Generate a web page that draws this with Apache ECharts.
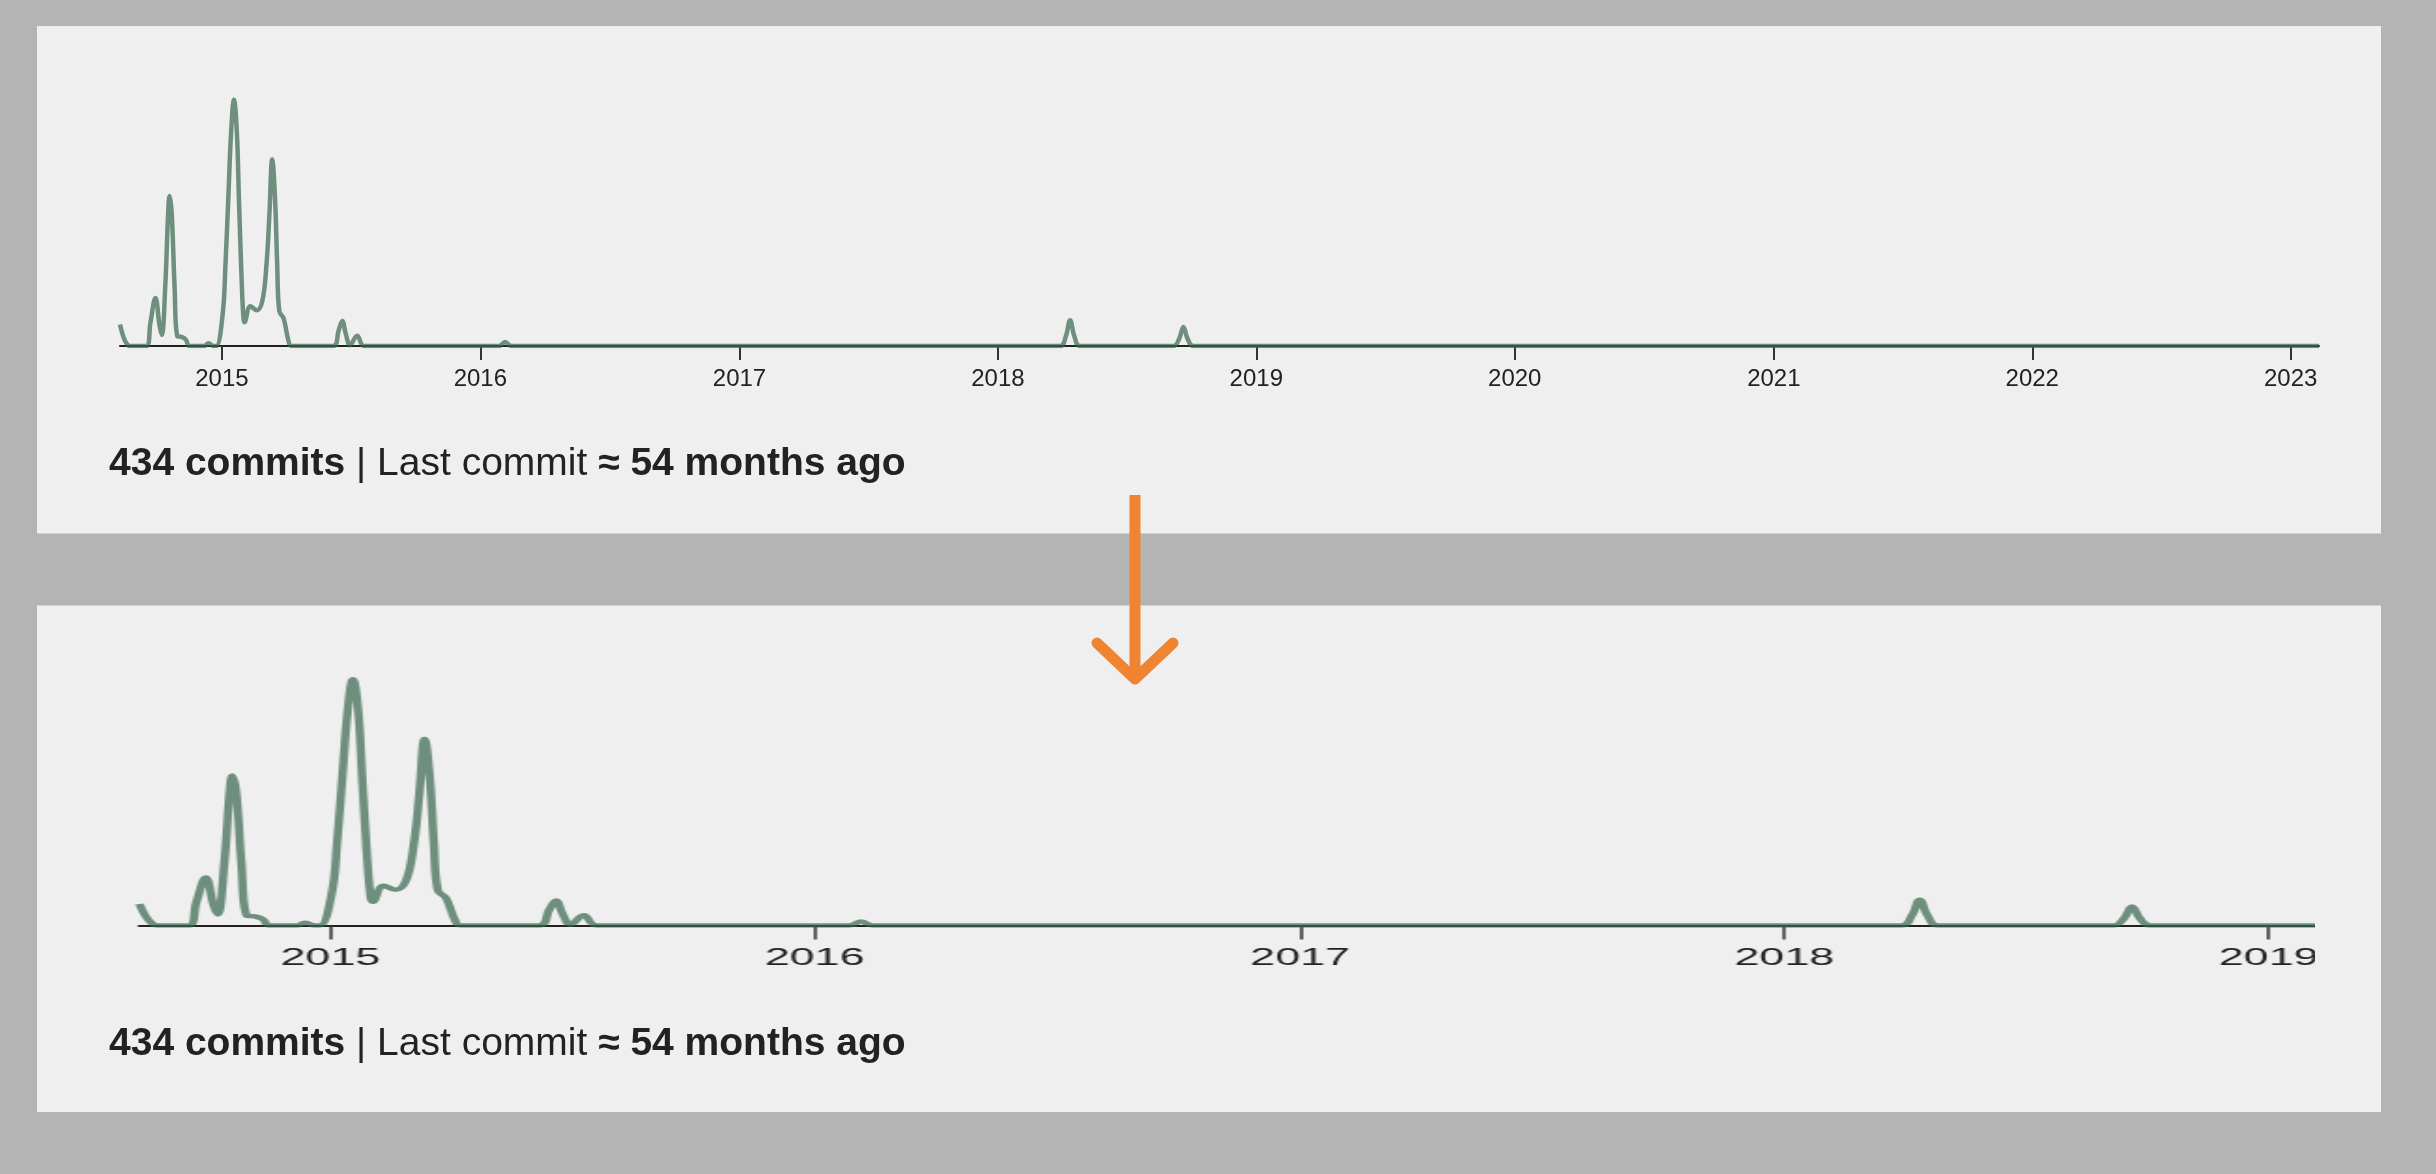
<!DOCTYPE html>
<html>
<head>
<meta charset="utf-8">
<script src="https://cdn.jsdelivr.net/npm/echarts@6/dist/echarts.min.js"></script>
<style>
  html, body { margin: 0; padding: 0; width: 2436px; height: 1174px; overflow: hidden; background: #b4b4b4; }
  .panel { position: absolute; left: 37px; width: 2344px; background: #efefef; }
  #panel1 { top: 26px; height: 507px; border-bottom: 1px solid #d2d2d2; }
  #panel2 { top: 605px; height: 506px; border-top: 1px solid #d2d2d2; }
  #main { position: absolute; left: 0; top: 0; width: 2436px; height: 1174px; }
  #wrap2 { position: absolute; left: 0; top: 606px; width: 2315px; height: 505px; overflow: hidden; }
  #chart2 { position: absolute; left: 0; top: 0; width: 1300px; height: 505px; transform: scaleX(1.87); transform-origin: 0 0; }
</style>
</head>
<body>
<div class="panel" id="panel1"></div>
<div class="panel" id="panel2"></div>
<div id="main"></div>
<div id="wrap2"><div id="chart2"></div></div>
<script>
// ---- data ----
const dates = [
  '2014-08-10','2014-08-15','2014-08-20','2014-08-24',
  '2014-09-16','2014-09-22','2014-09-29','2014-10-05','2014-10-08',
  '2014-10-13','2014-10-17','2014-10-19','2014-10-22','2014-10-26','2014-10-30',
  '2014-11-05','2014-11-11','2014-11-16',
  '2014-12-07','2014-12-13','2014-12-20','2014-12-24',
  '2015-01-02','2015-01-06','2015-01-10','2015-01-14','2015-01-18','2015-01-22','2015-01-25','2015-01-28','2015-01-31',
  '2015-02-02','2015-02-10','2015-02-19','2015-02-27',
  '2015-03-05','2015-03-09','2015-03-13','2015-03-17','2015-03-20','2015-03-23','2015-03-29',
  '2015-04-05','2015-04-09',
  '2015-06-07','2015-06-15','2015-06-20','2015-06-25','2015-07-01','2015-07-11','2015-07-21',
  '2016-01-27','2016-02-05','2016-02-14',
  '2018-03-30','2018-04-07','2018-04-13','2018-04-19','2018-04-27',
  '2018-09-06','2018-09-14','2018-09-20','2018-09-26','2018-10-04',
  '2023-02-10'
];
const commits = [
  5.4, 2.2, 0.4, 0,
  0, 5.9, 12.1, 5.0, 2.8,
  15.4, 33.5, 37.8, 33.5, 15.4, 2.5,
  2.3, 1.6, 0,
  0, 0.7, 0, 0,
  8, 20.7, 37.3, 54, 62, 54, 37, 20.7, 8,
  6, 10, 9, 11.3,
  20.7, 33, 47, 37, 20.7, 8.8, 7,
  1.3, 0,
  0, 4, 6.3, 3, 0.2, 2.6, 0,
  0, 1, 0,
  0, 2.5, 6.5, 2.5, 0,
  0, 1.8, 4.8, 1.8, 0,
  0
];
const yearsPanel1 = [2015, 2016, 2017, 2018, 2019, 2020, 2021, 2022, 2023];
const yearsPanel2 = [2015, 2016, 2017, 2018, 2019];
const rangePanel1 = ['2014-08-10', '2023-02-10'];
const rangePanel2 = ['2014-08-10', '2019-02-08'];
const summaryCount = '434 commits';
const summaryMid = ' | Last commit ';
const summaryAgo = '≈ 54 months ago';

// ---- build ----
function ts(s) { const p = s.split('-').map(Number); return new Date(p[0], p[1] - 1, p[2]).getTime(); }
const seriesData = dates.map((d, i) => [ts(d), commits[i]]);
const yearStarts = ys => ys.map(y => new Date(y, 0, 1).getTime());
const yearFmt = v => String(new Date(v).getFullYear());

function makeAxis(range, years, tickW) {
  const ticks = yearStarts(years);
  return {
    type: 'value',
    min: ts(range[0]),
    max: ts(range[1]),
    axisLine: { show: true, lineStyle: { color: '#222', width: 2 } },
    axisTick: { show: true, length: 14, customValues: ticks, lineStyle: { color: '#333', width: tickW } },
    axisLabel: {
      customValues: ticks, formatter: yearFmt, fontSize: 24,
      fontFamily: 'Liberation Sans, Arial, sans-serif', color: '#222', margin: 21
    },
    splitLine: { show: false }
  };
}
function makeSeries(width) {
  return {
    type: 'line', data: seriesData, showSymbol: false, smooth: 0.4, silent: true,
    lineStyle: { color: 'rgb(56,102,79)', width: width, opacity: 0.7 }, z: 3
  };
}
const summaryText = '{b|' + summaryCount + '}{n|' + summaryMid + '}{b|' + summaryAgo + '}';
const textFont = 'Liberation Sans, Arial, sans-serif';
const rich = {
  b: { fontFamily: textFont, fontSize: 39, fontWeight: 'bold', fill: '#222' },
  n: { fontFamily: textFont, fontSize: 39, fontWeight: 'normal', fill: '#222' }
};

const main = echarts.init(document.getElementById('main'));
main.setOption({
  animation: false,
  backgroundColor: 'transparent',
  grid: { left: 120, right: 117, top: 76, height: 270 },
  xAxis: makeAxis(rangePanel1, yearsPanel1, 2),
  yAxis: { type: 'value', min: 0, max: 68, show: false },
  series: [makeSeries(4.5)],
  graphic: [
    { type: 'text', x: 109, y: 464, z: 50, style: { text: summaryText, rich: rich, verticalAlign: 'middle' } },
    { type: 'text', x: 109, y: 1044, z: 50, style: { text: summaryText, rich: rich, verticalAlign: 'middle' } },
    { type: 'line', z: 60, shape: { x1: 1135, y1: 495, x2: 1135, y2: 676 },
      style: { stroke: '#ef8432', lineWidth: 11, lineCap: 'butt' } },
    { type: 'polyline', z: 60, shape: { points: [[1097, 643], [1135, 679], [1173, 643]] },
      style: { stroke: '#ef8432', fill: null, lineWidth: 11, lineCap: 'round', lineJoin: 'round' } }
  ]
});

const c2 = echarts.init(document.getElementById('chart2'));
c2.setOption({
  animation: false,
  backgroundColor: 'transparent',
  grid: { left: 74.5, right: 59.9, top: 49.5, height: 270 },
  xAxis: makeAxis(rangePanel2, yearsPanel2, 1.5),
  yAxis: { type: 'value', min: 0, max: 68, show: false },
  series: [makeSeries(4.5)]
});
</script>
</body>
</html>
